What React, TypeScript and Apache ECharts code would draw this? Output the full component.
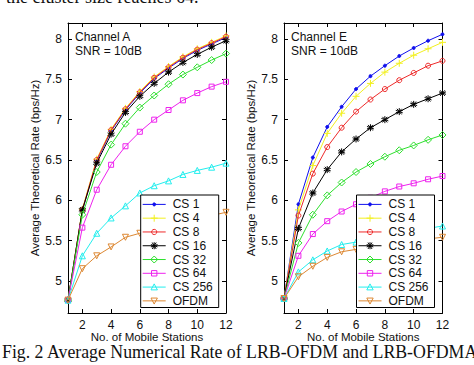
import React, { useEffect, useRef } from 'react';
import * as echarts from 'echarts';

const stations = [1, 2, 3, 4, 5, 6, 7, 8, 9, 10, 11, 12];
const seriesNames = ['CS 1', 'CS 4', 'CS 8', 'CS 16', 'CS 32', 'CS 64', 'CS 256', 'OFDM'];
const xTicks = [2, 4, 6, 8, 10, 12];
const yTicks = [5, 5.5, 6, 6.5, 7, 7.5, 8];

// Channel A
const aCS1 = [4.76, 5.87, 6.49, 6.86, 7.12, 7.33, 7.51, 7.64, 7.76, 7.86, 7.94, 8.02];
const aCS4 = [4.76, 5.89, 6.51, 6.88, 7.14, 7.35, 7.53, 7.66, 7.78, 7.88, 7.96, 8.04];
const aCS8 = [4.76, 5.88, 6.5, 6.87, 7.13, 7.34, 7.52, 7.65, 7.77, 7.87, 7.95, 8.03];
const aCS16 = [4.76, 5.88, 6.46, 6.82, 7.09, 7.29, 7.45, 7.59, 7.71, 7.81, 7.9, 7.98];
const aCS32 = [4.76, 5.82, 6.35, 6.69, 6.95, 7.15, 7.3, 7.44, 7.56, 7.65, 7.74, 7.82];
const aCS64 = [4.76, 5.66, 6.13, 6.44, 6.67, 6.85, 7.0, 7.12, 7.24, 7.33, 7.41, 7.47];
const aCS256 = [4.76, 5.31, 5.59, 5.78, 5.93, 6.09, 6.18, 6.24, 6.32, 6.37, 6.41, 6.46];
const aOFDM = [4.76, 5.15, 5.31, 5.42, 5.54, 5.59, 5.64, 5.69, 5.73, 5.77, 5.81, 5.85];

// Channel E
const eCS1 = [4.78, 5.95, 6.53, 6.91, 7.16, 7.38, 7.54, 7.67, 7.79, 7.89, 7.98, 8.06];
const eCS4 = [4.78, 5.88, 6.43, 6.83, 7.08, 7.29, 7.45, 7.59, 7.7, 7.8, 7.88, 7.96];
const eCS8 = [4.78, 5.81, 6.33, 6.66, 6.9, 7.1, 7.25, 7.38, 7.49, 7.58, 7.67, 7.73];
const eCS16 = [4.78, 5.65, 6.09, 6.38, 6.6, 6.76, 6.9, 7.0, 7.1, 7.19, 7.26, 7.33];
const eCS32 = [4.78, 5.47, 5.82, 6.06, 6.22, 6.35, 6.45, 6.54, 6.62, 6.68, 6.75, 6.81];
const eCS64 = [4.78, 5.31, 5.58, 5.74, 5.86, 5.95, 6.03, 6.11, 6.17, 6.21, 6.26, 6.3];
const eCS256 = [4.78, 5.11, 5.26, 5.37, 5.45, 5.48, 5.52, 5.56, 5.59, 5.62, 5.65, 5.68];
const eOFDM = [4.78, 5.05, 5.18, 5.29, 5.36, 5.39, 5.42, 5.45, 5.48, 5.5, 5.52, 5.54];

const channelA = [aCS1, aCS4, aCS8, aCS16, aCS32, aCS64, aCS256, aOFDM];
const channelE = [eCS1, eCS4, eCS8, eCS16, eCS32, eCS64, eCS256, eOFDM];

const colors = ['#1010ee', '#f2f020', '#ee2a2a', '#000000', '#2ee02e', '#ee22ee', '#22eeee', '#dd8833'];
const markers: any[] = [
  { symbol: 'circle', size: 3, filled: true },
  { symbol: 'path://M5,0L5,10M0,5L10,5', size: 7, filled: false },
  { symbol: 'circle', size: 5, filled: false },
  { symbol: 'path://M5,0L5,10M0.5,3.2L9.5,6.8M9.5,3.2L0.5,6.8M2,9L8,1M8,9L2,1', size: 7, filled: false },
  { symbol: 'diamond', size: 7, filled: false },
  { symbol: 'rect', size: 5, filled: false },
  { symbol: 'triangle', size: 6, filled: false },
  { symbol: 'path://M0,0L10,0L5,9Z', size: 6, filled: false },
];

const FONT = 'Liberation Sans';
const LZ = 100;

// Hand-built MATLAB-style legend box (line sample + small marker + label)
function legendMarker(i: number, cx: number, cy: number) {
  const c = colors[i];
  const st = { stroke: c, fill: 'none', lineWidth: 1 };
  const ln = (x1: number, y1: number, x2: number, y2: number) => ({
    type: 'line',
    z: LZ + 2,
    shape: { x1: cx + x1, y1: cy + y1, x2: cx + x2, y2: cy + y2 },
    style: st,
  });
  switch (i) {
    case 0:
      return [{ type: 'circle', z: LZ + 2, shape: { cx, cy, r: 1.5 }, style: { fill: c, stroke: c } }];
    case 1:
      return [ln(0, -3.5, 0, 3.5), ln(-3.5, 0, 3.5, 0)];
    case 2:
      return [{ type: 'circle', z: LZ + 2, shape: { cx, cy, r: 2.6 }, style: st }];
    case 3:
      return [ln(0, -3.5, 0, 3.5), ln(-3.3, -1.2, 3.3, 1.2), ln(3.3, -1.2, -3.3, 1.2), ln(-2, 3.2, 2, -3.2), ln(2, 3.2, -2, -3.2)];
    case 4:
      return [{ type: 'polygon', z: LZ + 2, shape: { points: [[cx, cy - 3.5], [cx + 3.5, cy], [cx, cy + 3.5], [cx - 3.5, cy]] }, style: st }];
    case 5:
      return [{ type: 'rect', z: LZ + 2, shape: { x: cx - 2.7, y: cy - 2.7, width: 5.4, height: 5.4 }, style: st }];
    case 6:
      return [{ type: 'polygon', z: LZ + 2, shape: { points: [[cx, cy - 3.2], [cx + 3.2, cy + 2.8], [cx - 3.2, cy + 2.8]] }, style: st }];
    default:
      return [{ type: 'polygon', z: LZ + 2, shape: { points: [[cx - 3.2, cy - 2.8], [cx + 3.2, cy - 2.8], [cx, cy + 3.2]] }, style: st }];
  }
}

function legendGroup(left: number, top: number) {
  const w = 78;
  const h = 112.5;
  const children: any[] = [
    {
      type: 'rect',
      z: LZ,
      shape: { x: 0, y: 0, width: w, height: h },
      style: { fill: '#fff', stroke: '#000', lineWidth: 1 },
    },
  ];
  seriesNames.forEach((name, i) => {
    const cy = 9.4 + i * 13.78;
    children.push({
      type: 'line',
      z: LZ + 1,
      shape: { x1: 2, y1: cy, x2: 25, y2: cy },
      style: { stroke: colors[i], lineWidth: 1 },
    });
    children.push(...legendMarker(i, 13.5, cy));
    children.push({
      type: 'text',
      z: LZ + 1,
      x: 32,
      y: cy,
      style: { text: name, font: `12px "${FONT}"`, fill: '#111', verticalAlign: 'middle' },
    });
  });
  return { type: 'group', x: left, y: top, z: LZ, children };
}

function buildSeries(data: number[][], gridIdx: number) {
  return data.map((vals, i) => ({
    type: 'line',
    name: seriesNames[i],
    xAxisIndex: gridIdx * 2,
    yAxisIndex: gridIdx * 2,
    data: stations.map((s, k) => [s, vals[k]]),
    symbol: markers[i].symbol,
    symbolSize: markers[i].size,
    showSymbol: true,
    color: colors[i],
    lineStyle: { color: colors[i], width: 1 },
    itemStyle: markers[i].filled
      ? { color: colors[i], borderColor: colors[i], borderWidth: 1 }
      : { color: 'rgba(255,255,255,0)', borderColor: colors[i], borderWidth: 1 },
    z: 2 + i * 0.01,
  }));
}

function xAxis(gridIndex: number, position: string, labels: boolean) {
  return {
    type: 'value',
    gridIndex,
    position,
    min: 1,
    max: 12,
    axisLine: { show: true, onZero: false, lineStyle: { color: '#000', width: 1 } },
    axisTick: { show: true, inside: true, length: 4, customValues: xTicks, lineStyle: { color: '#000' } },
    axisLabel: { show: labels, customValues: xTicks, margin: 6, fontFamily: FONT, fontSize: 12, color: '#111' },
    splitLine: { show: false },
    name: labels ? 'No. of Mobile Stations' : '',
    nameLocation: 'middle',
    nameGap: 24,
    nameMoveOverlap: false,
    nameTextStyle: { fontFamily: FONT, fontSize: 11.5, color: '#111', verticalAlign: 'middle' },
  };
}

function yAxis(gridIndex: number, position: string, labels: boolean) {
  return {
    type: 'value',
    gridIndex,
    position,
    min: 4.6,
    max: 8.2,
    axisLine: { show: true, onZero: false, lineStyle: { color: '#000', width: 1 } },
    axisTick: { show: true, inside: true, length: 4, customValues: yTicks, lineStyle: { color: '#000' } },
    axisLabel: {
      show: labels,
      customValues: yTicks,
      margin: 6,
      fontFamily: FONT,
      fontSize: 12,
      color: '#111',
      formatter: (v: number) => String(v),
    },
    splitLine: { show: false },
    name: labels ? 'Average Theoretical Rate (bps/Hz)' : '',
    nameLocation: 'middle',
    nameGap: 33,
    nameMoveOverlap: false,
    nameTextStyle: { fontFamily: FONT, fontSize: 11.5, color: '#111', verticalAlign: 'middle' },
  };
}

export default function App() {
  const ref = useRef<HTMLDivElement>(null);
  useEffect(() => {
    const chart = echarts.init(ref.current!, null, { renderer: 'svg' });
    const option: any = {
      animation: false,
      backgroundColor: '#fff',
      grid: [
        { left: 68, top: 23, width: 158, height: 290 },
        { left: 284, top: 23, width: 158.5, height: 290 },
      ],
      xAxis: [xAxis(0, 'bottom', true), xAxis(0, 'top', false), xAxis(1, 'bottom', true), xAxis(1, 'top', false)],
      yAxis: [yAxis(0, 'left', true), yAxis(0, 'right', false), yAxis(1, 'left', true), yAxis(1, 'right', false)],
      series: [...buildSeries(channelA, 0), ...buildSeries(channelE, 1)],
      graphic: {
        z: LZ,
        elements: [
          legendGroup(140.7, 195),
          legendGroup(356.5, 195),
          { type: 'text', left: 75, top: 31, style: { text: 'Channel A', font: `12px "${FONT}"`, fill: '#111' } },
          { type: 'text', left: 75, top: 45, style: { text: 'SNR = 10dB', font: `12px "${FONT}"`, fill: '#111' } },
          { type: 'text', left: 291, top: 31, style: { text: 'Channel E', font: `12px "${FONT}"`, fill: '#111' } },
          { type: 'text', left: 291, top: 45, style: { text: 'SNR = 10dB', font: `12px "${FONT}"`, fill: '#111' } },
          {
            type: 'text',
            x: 6,
            y: 6,
            style: {
              text: 'the cluster size reaches 64.',
              font: '18px "Liberation Serif"',
              fill: '#111',
              verticalAlign: 'bottom',
            },
          },
          {
            type: 'text',
            x: 2,
            y: 352,
            style: {
              text: 'Fig. 2 Average Numerical Rate of LRB-OFDM and LRB-OFDMA',
              font: '17.8px "Liberation Serif"',
              fill: '#111',
              verticalAlign: 'middle',
            },
          },
        ],
      },
    };
    chart.setOption(option);
    return () => chart.dispose();
  }, []);
  return (
    <div
      ref={ref}
      style={{ position: 'fixed', left: 0, top: 0, width: 474, height: 365, background: '#fff' }}
    />
  );
}
